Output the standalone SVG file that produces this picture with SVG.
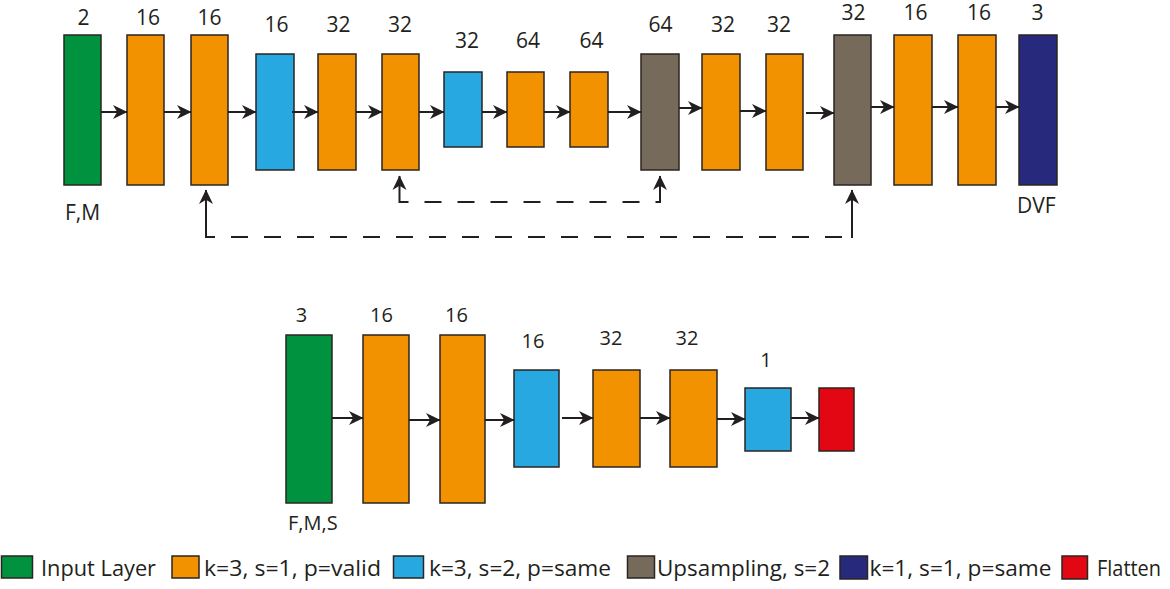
<svg xmlns="http://www.w3.org/2000/svg" width="1170" height="589" viewBox="0 0 1170 589">
<style>
text{font-family:"Open Sans","Liberation Sans",sans-serif;fill:#231f20}
.lbl{font-size:21px;text-anchor:middle}
.lbs{font-size:20px;text-anchor:middle}
.leg{font-size:21px}
.node rect,#legend rect{stroke:#2b2522;stroke-width:1.5}
.in{fill:#00923f}.cv{fill:#f39200}.st{fill:#27a8e1}.up{fill:#766a5a}.out{fill:#272a7c}.fl{fill:#e30613}
.ar{stroke:#231f20;stroke-width:2;fill:none;marker-end:url(#ah)}
.dash{stroke:#231f20;stroke-width:2;fill:none;stroke-dasharray:17 16}
</style>
<defs>
<marker id="ah" markerUnits="userSpaceOnUse" markerWidth="15" markerHeight="15" refX="14" refY="7.5" orient="auto" viewBox="0 0 15 15">
<path d="M0,0.5 L14.5,7.5 L0,14.5 L4.2,7.5 Z" fill="#231f20"/>
</marker>
</defs>
<rect x="0" y="0" width="1170" height="589" fill="#fff"/>

<!-- top network -->
<g id="t_in" class="node"><rect class="in" x="64" y="35" width="37" height="150"/><text class="lbl" x="83.5" y="25">2</text><text x="65" y="220" style="font-size:21px">F,M</text></g>
<g id="t_c1" class="node"><rect class="cv" x="127" y="35" width="37" height="150"/><text class="lbl" x="148" y="25">16</text></g>
<g id="t_c2" class="node"><rect class="cv" x="191" y="35" width="37" height="150"/><text class="lbl" x="209.5" y="25">16</text></g>
<g id="t_s1" class="node"><rect class="st" x="256" y="54" width="38" height="116"/><text class="lbl" x="276.5" y="32">16</text></g>
<g id="t_c3" class="node"><rect class="cv" x="318" y="54" width="38" height="116"/><text class="lbl" x="338.5" y="32">32</text></g>
<g id="t_c4" class="node"><rect class="cv" x="382" y="54" width="37" height="116"/><text class="lbl" x="400" y="32">32</text></g>
<g id="t_s2" class="node"><rect class="st" x="444" y="72" width="38" height="75"/><text class="lbl" x="467" y="48">32</text></g>
<g id="t_c5" class="node"><rect class="cv" x="507" y="72" width="37" height="75"/><text class="lbl" x="528" y="48">64</text></g>
<g id="t_c6" class="node"><rect class="cv" x="570" y="72" width="38" height="75"/><text class="lbl" x="591.5" y="48">64</text></g>
<g id="t_u1" class="node"><rect class="up" x="641" y="54" width="38" height="116"/><text class="lbl" x="660.5" y="32">64</text></g>
<g id="t_c7" class="node"><rect class="cv" x="702" y="54" width="38" height="116"/><text class="lbl" x="723" y="32">32</text></g>
<g id="t_c8" class="node"><rect class="cv" x="766" y="54" width="37" height="116"/><text class="lbl" x="779" y="32">32</text></g>
<g id="t_u2" class="node"><rect class="up" x="834" y="35" width="37" height="150"/><text class="lbl" x="853.5" y="20">32</text></g>
<g id="t_c9" class="node"><rect class="cv" x="894" y="35" width="38" height="150"/><text class="lbl" x="915.5" y="20">16</text></g>
<g id="t_c10" class="node"><rect class="cv" x="958" y="35" width="38" height="150"/><text class="lbl" x="979" y="20">16</text></g>
<g id="t_out" class="node"><rect class="out" x="1019" y="35" width="38" height="150"/><text class="lbl" x="1037.5" y="20">3</text><text x="1017" y="213" style="font-size:21px">DVF</text></g>

<!-- bottom network -->
<g id="b_in" class="node"><rect class="in" x="286" y="335" width="46" height="168"/><text class="lbs" x="301.5" y="322">3</text><text x="288" y="530" style="font-size:20px">F,M,S</text></g>
<g id="b_c1" class="node"><rect class="cv" x="363" y="335" width="46" height="168"/><text class="lbs" x="381.5" y="322">16</text></g>
<g id="b_c2" class="node"><rect class="cv" x="440" y="335" width="45" height="168"/><text class="lbs" x="456.5" y="322">16</text></g>
<g id="b_s1" class="node"><rect class="st" x="514" y="370" width="45" height="97"/><text class="lbs" x="533" y="348">16</text></g>
<g id="b_c3" class="node"><rect class="cv" x="593" y="370" width="47" height="97"/><text class="lbs" x="611" y="345">32</text></g>
<g id="b_c4" class="node"><rect class="cv" x="670" y="370" width="47" height="97"/><text class="lbs" x="687" y="345">32</text></g>
<g id="b_s2" class="node"><rect class="st" x="745" y="388" width="46" height="63"/><text class="lbs" x="766" y="367">1</text></g>
<g id="b_fl" class="node"><rect class="fl" x="819" y="388" width="35" height="63"/></g>

<!-- connectors -->
<g id="connectors">
<path class="ar" d="M101,112 H127"/>
<path class="ar" d="M164,112 H191"/>
<path class="ar" d="M228,112 H256"/>
<path class="ar" d="M292,112 H318"/>
<path class="ar" d="M356,112 H382"/>
<path class="ar" d="M419,112 H444"/>
<path class="ar" d="M482,112 H507"/>
<path class="ar" d="M544,112 H570"/>
<path class="ar" d="M608,112 H641"/>
<path class="ar" d="M679,108 H702"/>
<path class="ar" d="M740,111 H766"/>
<path class="ar" d="M806,113 H834"/>
<path class="ar" d="M871,107 H894"/>
<path class="ar" d="M932,107 H958"/>
<path class="ar" d="M996,107 H1019"/>
<path class="ar" d="M399.5,203 V176"/>
<path class="dash" d="M399.5,202 H660" stroke-dashoffset="8"/>
<path class="ar" d="M660,203 V176"/>
<path class="ar" d="M206,238 V190"/>
<path class="dash" d="M206,237 H852" stroke-dashoffset="8"/>
<path class="ar" d="M852,238 V190"/>
<path class="ar" d="M332,418 H363"/>
<path class="ar" d="M409,420 H440"/>
<path class="ar" d="M485,420 H514"/>
<path class="ar" d="M562,418 H593"/>
<path class="ar" d="M640,418 H670"/>
<path class="ar" d="M717,419 H745"/>
<path class="ar" d="M791,418 H819"/>
</g>

<!-- legend -->
<g id="legend">
<g id="leg_in"><rect class="in" x="1.5" y="556" width="31" height="22"/><text class="leg" x="41" y="576" textLength="115" lengthAdjust="spacingAndGlyphs">Input Layer</text></g>
<g id="leg_cv"><rect class="cv" x="172" y="556" width="27" height="22"/><text class="leg" x="204" y="576" textLength="177" lengthAdjust="spacingAndGlyphs">k=3, s=1, p=valid</text></g>
<g id="leg_st"><rect class="st" x="393.5" y="556" width="30" height="22"/><text class="leg" x="429" y="576" textLength="182" lengthAdjust="spacingAndGlyphs">k=3, s=2, p=same</text></g>
<g id="leg_up"><rect class="up" x="627.5" y="556" width="27" height="22"/><text class="leg" x="657" y="576" textLength="173" lengthAdjust="spacingAndGlyphs">Upsampling, s=2</text></g>
<g id="leg_out"><rect class="out" x="840" y="556" width="27.5" height="23"/><text class="leg" x="869.5" y="576" textLength="182" lengthAdjust="spacingAndGlyphs">k=1, s=1, p=same</text></g>
<g id="leg_fl"><rect class="fl" x="1062" y="556" width="25.5" height="23"/><text class="leg" x="1097" y="576" textLength="64" lengthAdjust="spacingAndGlyphs">Flatten</text></g>
</g>
</svg>
